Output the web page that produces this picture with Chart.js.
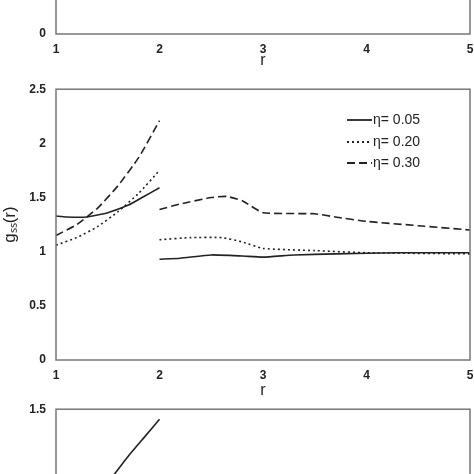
<!DOCTYPE html>
<html><head><meta charset="utf-8">
<script src="https://cdn.jsdelivr.net/npm/chart.js"></script>
<style>body{margin:0;width:474px;height:474px;overflow:hidden;background:#fff;position:relative}canvas{position:absolute;left:0}</style>
</head><body>
<canvas id="top" width="474" height="380" style="top:-310px"></canvas>
<canvas id="mid" width="474" height="320" style="top:80px"></canvas>
<canvas id="bot" width="474" height="300" style="top:400px"></canvas>
<script>
const xTicks=[1,2,3,4,5];
const r005=[1,1.1,1.3,1.5,1.7,1.85,2,2,2,2.2,2.5,2.8,3,3.3,3.7,4.3,5];
const g005=[1.33,1.32,1.32,1.36,1.43,1.51,1.59,null,0.93,0.94,0.97,0.96,0.95,0.97,0.98,0.99,0.99];
const r020=[1,1.2,1.4,1.6,1.8,2,2,2,2.3,2.6,2.8,3,3.5,4,5];
const g020=[1.06,1.13,1.23,1.37,1.54,1.75,null,1.11,1.13,1.13,1.09,1.03,1.01,0.99,0.98];
const r030=[1,1.2,1.4,1.6,1.8,2,2,2,2.2,2.5,2.65,2.8,3,3.5,3.7,4,4.5,5];
const g030=[1.15,1.25,1.40,1.61,1.87,2.21,null,1.39,1.44,1.50,1.51,1.47,1.36,1.35,1.32,1.28,1.24,1.20];
const rBot=[1.55,1.7,1.85,2];
const gBot=[1.1,1.22,1.33,1.44];
const legendLabels=['η= 0.05','η= 0.20','η= 0.30'];
const dashes=[[],[2,3],[8,4]];
const font={family:'Liberation Sans, Arial',size:12,weight:'bold'};
const pts=(xs,ys)=>xs.map((x,i)=>({x,y:ys[i]}));
const box={id:'box',afterDraw(c){const a=c.chartArea,x=c.ctx;x.save();x.strokeStyle='#777';x.lineWidth=1.5;x.strokeRect(a.left,a.top,a.right-a.left,a.bottom-a.top);x.restore();}};
function opts(ymin,ymax,step,ytitle,xh,padTop){return{responsive:false,animation:false,spanGaps:false,
 layout:{padding:{top:padTop,right:4,left:0,bottom:0}},
 plugins:{legend:{display:false},tooltip:{enabled:false}},
 elements:{point:{radius:0},line:{tension:0.15,borderWidth:1.6,borderColor:'#222'}},
 scales:{x:{type:'linear',min:1,max:5,grid:{display:false},border:{display:false},
   afterBuildTicks:s=>{s.ticks=xTicks.map(v=>({value:v}));},
   ticks:{color:'#222',font,padding:0,maxRotation:0,callback:v=>String(v)},
   title:{display:true,text:'r',color:'#222',font:{family:'Liberation Sans, Arial',size:16},padding:0},
   afterFit:s=>{s.height=xh;}},
  y:{min:ymin,max:ymax,grid:{display:false},border:{display:false},
   ticks:{stepSize:step,color:'#222',font,padding:2,callback:v=>String(v)},
   title:{display:!!ytitle,text:ytitle,color:'#222',font:{family:'Liberation Sans, Arial',size:17},padding:0},
   afterFit:s=>{s.width=56;}}}};}
new Chart(document.getElementById('top'),{type:'line',data:{datasets:[{data:[]}]},options:opts(0,2.5,0.5,'',36,0),plugins:[box]});
const legendPlug={id:'lg',afterDraw(c){const x=c.ctx;x.save();x.strokeStyle='#222';x.lineWidth=1.8;x.fillStyle='#222';x.font='14px Liberation Sans, Arial';x.textBaseline='middle';
 [40,62,83].forEach((y,i)=>{x.setLineDash(dashes[i]);x.beginPath();x.moveTo(347,y);x.lineTo(372,y);x.stroke();x.fillText(legendLabels[i],373,y);});x.restore();}};
const mo=opts(0,2.5,0.5,'gₛₛ(r)',40,7);
new Chart(document.getElementById('mid'),{type:'line',data:{datasets:[
 {data:pts(r005,g005)},{data:pts(r020,g020),borderDash:dashes[1]},{data:pts(r030,g030),borderDash:dashes[2]}]},options:mo,plugins:[box,legendPlug]});
const bo=opts(0,1.5,0.5,'',40,9);
new Chart(document.getElementById('bot'),{type:'line',data:{datasets:[{data:pts(rBot,gBot)}]},options:bo,plugins:[box]});
</script></body></html>
